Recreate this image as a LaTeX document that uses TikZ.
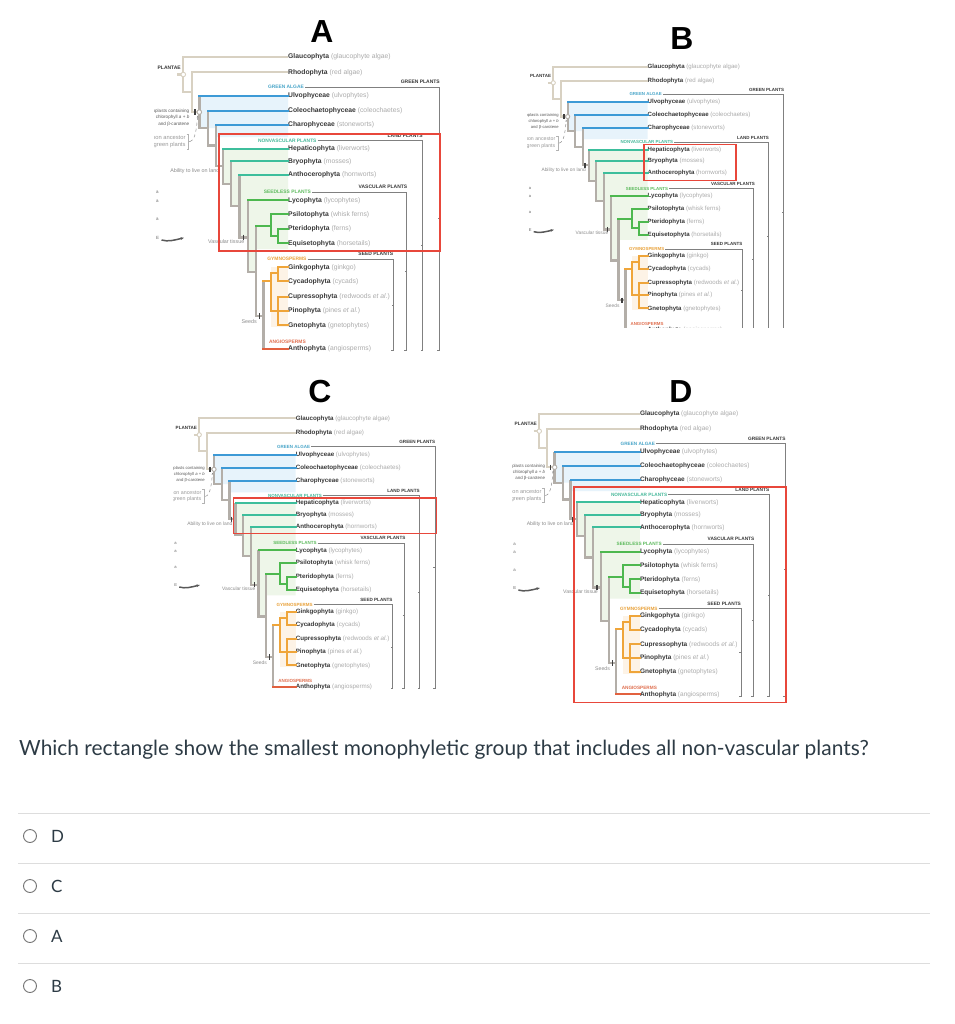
\documentclass[tikz,border=0pt]{standalone}
\usepackage{fontspec}
\setmainfont{Liberation Sans}
\newfontfamily\latofont{Lato}
\usetikzlibrary{arrows.meta}

\definecolor{tanline}{HTML}{D8D1C2}
\definecolor{greyline}{HTML}{B3AEA8}
\definecolor{algaeblue}{HTML}{3D9AD6}
\definecolor{mossteal}{HTML}{3DBE9C}
\definecolor{ferngreen}{HTML}{4DB84F}
\definecolor{coneorange}{HTML}{EFA53A}
\definecolor{flowerred}{HTML}{E2613F}
\definecolor{algaefill}{HTML}{E7F3FB}
\definecolor{mossfill}{HTML}{EEF6E9}
\definecolor{conefill}{HTML}{FDF3E6}
\definecolor{algaelabel}{HTML}{4AA6C9}
\definecolor{mosslabel}{HTML}{46B89A}
\definecolor{fernlabel}{HTML}{5CBA5C}
\definecolor{conelabel}{HTML}{E9A23B}
\definecolor{flowerlabel}{HTML}{E07050}
\definecolor{namegray}{HTML}{383838}
\definecolor{commongray}{HTML}{ABABAB}
\definecolor{notegray}{HTML}{8C8C8C}
\definecolor{boxred}{HTML}{E8473B}
\definecolor{rulegray}{HTML}{DDDDDD}
\definecolor{canvastext}{HTML}{2D3B45}

\tikzset{
  backbone/.style={greyline, line width=2.4bp},
  tanbr/.style={tanline, line width=2.2bp},
  leafbr/.style={line width=2bp, line cap=rect},
  taxon/.style={anchor=west, inner sep=0pt, text=namegray, font=\fontsize{6.8}{7}\selectfont},
  cladename/.style={anchor=east, inner sep=0pt, font=\bfseries\fontsize{4.9}{5}\selectfont},
  groupname/.style={anchor=east, inner sep=0pt, text=namegray, font=\bfseries\fontsize{5}{5}\selectfont},
  bracketline/.style={black!50, line width=0.6bp},
  note/.style={inner sep=0pt, text=notegray, font=\fontsize{5.4}{6}\selectfont},
  marker/.style={black!75, line width=1.4bp},
  nodedot/.style={circle, draw, fill=white, line width=0.9bp, minimum size=4.6bp, inner sep=0pt},
  panelletter/.style={inner sep=0pt, font=\bfseries\fontsize{32}{32}\selectfont},
  redbox/.style={boxred, line width=1.5bp},
  question/.style={anchor=west, inner sep=0pt, text=canvastext, font=\latofont\fontsize{21}{24}\selectfont},
  optionname/.style={anchor=west, inner sep=0pt, text=canvastext, font=\latofont\fontsize{17}{19}\selectfont},
  radio/.style={circle, draw=black!55, line width=0.9bp, minimum size=13bp, inner sep=0pt},
  rule/.style={rulegray, line width=1bp}
}

% branch from an inner node out to a taxon
\newcommand{\taxonleaf}[3]{%
  \draw[backbone] (#1) -- (#1 |- #2.west);
  \draw[leafbr, #3] (#1 |- #2.west) -- (#2.west);}

% bracket of a named group: label, right x, mid y
\newcommand{\cladebracket}[3]{%
  \draw[bracketline] ([xshift=1bp]#1.east) -| (#2,350.5) -- ++(-2,0);
  \draw[bracketline] (#2,#3) -- ++(-1.5,0);}

% the whole tree, drawn in panel A pixels
\newcommand{\planttree}{%
  % shaded clades
  \fill[algaefill] (199.3,96) -- (288,96) -- (288,137) -- (216,137) -- (216,128.2) -- (199.3,128.2) -- cycle;
  \fill[mossfill] (222.7,148.7) -- (288,148.7) -- (288,249) -- (255.7,249) -- (255.7,272) -- (247.7,272) -- (247.7,237.5) -- (239.3,237.5) -- (239.3,206) -- (231,206) -- (231,183.7) -- (222.7,183.7) -- cycle;
  \fill[conefill] (270.7,266.7) -- (288,266.7) -- (288,327) -- (270.7,327) -- cycle;
  % taxa
  \node[taxon] (glauco) at (288,56.7) {\textbf{Glaucophyta} \textcolor{commongray}{(glaucophyte algae)}};
  \node[taxon] (rhodo) at (288,72.3) {\textbf{Rhodophyta} \textcolor{commongray}{(red algae)}};
  \node[taxon] (ulvo) at (288,96) {\textbf{Ulvophyceae} \textcolor{commongray}{(ulvophytes)}};
  \node[taxon] (coleo) at (288,110.7) {\textbf{Coleochaetophyceae} \textcolor{commongray}{(coleochaetes)}};
  \node[taxon] (charo) at (288,125) {\textbf{Charophyceae} \textcolor{commongray}{(stoneworts)}};
  \node[taxon] (hepat) at (288,148.7) {\textbf{Hepaticophyta} \textcolor{commongray}{(liverworts)}};
  \node[taxon] (bryo) at (288,161.3) {\textbf{Bryophyta} \textcolor{commongray}{(mosses)}};
  \node[taxon] (anthoc) at (288,174.7) {\textbf{Anthocerophyta} \textcolor{commongray}{(hornworts)}};
  \node[taxon] (lyco) at (288,200.3) {\textbf{Lycophyta} \textcolor{commongray}{(lycophytes)}};
  \node[taxon] (psilo) at (288,214.3) {\textbf{Psilotophyta} \textcolor{commongray}{(whisk ferns)}};
  \node[taxon] (pterido) at (288,229) {\textbf{Pteridophyta} \textcolor{commongray}{(ferns)}};
  \node[taxon] (equis) at (288,243.3) {\textbf{Equisetophyta} \textcolor{commongray}{(horsetails)}};
  \node[taxon] (ginkgo) at (288,267.3) {\textbf{Ginkgophyta} \textcolor{commongray}{(ginkgo)}};
  \node[taxon] (cycado) at (288,281.3) {\textbf{Cycadophyta} \textcolor{commongray}{(cycads)}};
  \node[taxon] (cupresso) at (288,296.7) {\textbf{Cupressophyta} \textcolor{commongray}{(redwoods \textit{et al.})}};
  \node[taxon] (pino) at (288,310.7) {\textbf{Pinophyta} \textcolor{commongray}{(pines \textit{et al.})}};
  \node[taxon] (gneto) at (288,325.3) {\textbf{Gnetophyta} \textcolor{commongray}{(gnetophytes)}};
  \node[taxon] (antho) at (288,348.7) {\textbf{Anthophyta} \textcolor{commongray}{(angiosperms)}};
  % inner nodes
  \coordinate (n1) at (183.3,74.5);
  \coordinate (n2) at (191.7,92.2);
  \coordinate (n3) at (199.3,112.1);
  \coordinate (n4) at (207.7,128.2);
  \coordinate (n5) at (216,145.6);
  \coordinate (n6) at (222.7,166.2);
  \coordinate (n7) at (231,183.7);
  \coordinate (n8) at (239.3,206);
  \coordinate (n9) at (247.7,237.5);
  \coordinate (n10) at (255.7,272);
  \coordinate (n11) at (270.7,226.3);
  \coordinate (n12) at (278.3,236.3);
  \coordinate (n13) at (263.3,316);
  \coordinate (n14) at (270.7,281);
  \coordinate (n15) at (278.3,273.3);
  \coordinate (n16) at (278.3,310.7);
  % branches
  \draw[tanbr] ([xshift=-6]n1) -- (n1);
  \draw[tanbr] (n1) |- (glauco.west);
  \draw[tanbr] (n1) |- (n2);
  \draw[tanbr] (n2) |- (rhodo.west);
  \draw[tanbr] (n2) |- (n3);
  \draw[backbone] (n3) |- (n4);
  \draw[backbone] (n4) |- (n5);
  \draw[backbone] (n5) |- (n6);
  \draw[backbone] (n6) |- (n7);
  \draw[backbone] (n7) |- (n8);
  \draw[backbone] (n8) |- (n9);
  \draw[backbone] (n9) |- (n10);
  \draw[backbone] (n10) |- (n13);
  \taxonleaf{n3}{ulvo}{algaeblue}
  \taxonleaf{n4}{coleo}{algaeblue}
  \taxonleaf{n5}{charo}{algaeblue}
  \taxonleaf{n6}{hepat}{mossteal}
  \taxonleaf{n7}{bryo}{mossteal}
  \taxonleaf{n8}{anthoc}{mossteal}
  \taxonleaf{n9}{lyco}{ferngreen}
  \taxonleaf{n10}{n11}{ferngreen}
  \draw[leafbr, ferngreen] (n11) |- (psilo.west);
  \draw[leafbr, ferngreen] (n11) |- (n12);
  \draw[leafbr, ferngreen] (n12) |- (pterido.west);
  \draw[leafbr, ferngreen] (n12) |- (equis.west);
  \taxonleaf{n13}{n14}{coneorange}
  \taxonleaf{n13}{antho}{flowerred}
  \draw[leafbr, coneorange] (n14) |- (n15);
  \draw[leafbr, coneorange] (n14) |- (n16);
  \draw[leafbr, coneorange] (n15) |- (ginkgo.west);
  \draw[leafbr, coneorange] (n15) |- (cycado.west);
  \draw[leafbr, coneorange] (n16) |- (cupresso.west);
  \draw[leafbr, coneorange] (n16) |- (pino.west);
  \draw[leafbr, coneorange] (n16) |- (gneto.west);
  % events on the branches
  \draw[marker] (195,109.3) -- (195,114.9);
  \draw[marker] (218.6,163.4) -- (218.6,169);
  \draw[marker] (243.5,234.7) -- (243.5,240.3);
  \draw[marker] (259.5,313.2) -- (259.5,318.8);
  \node[nodedot, draw=tanline] (rootdot) at (n1) {};
  \node[nodedot, draw=greyline] (greendot) at (n3) {};
  % clade names and brackets
  \node[cladename, text=algaelabel] (galg) at (304,87.3) {GREEN ALGAE};
  \node[cladename, text=mosslabel] (nonv) at (316.7,140.7) {NONVASCULAR PLANTS};
  \node[cladename, text=fernlabel] (seedless) at (311,192.3) {SEEDLESS PLANTS};
  \node[cladename, text=conelabel] (gymno) at (306.7,259.3) {GYMNOSPERMS};
  \node[cladename, text=flowerlabel] (angio) at (306,342) {ANGIOSPERMS};
  \node[groupname] (gplants) at (440,82) {GREEN PLANTS};
  \node[groupname] (lplants) at (423,136) {LAND PLANTS};
  \node[groupname] (vplants) at (407.5,187) {VASCULAR PLANTS};
  \node[groupname] (splants) at (393.5,254) {SEED PLANTS};
  \node[groupname] (plantae) at (181,67.3) {PLANTAE};
  \cladebracket{galg}{439.3}{218.5}
  \cladebracket{nonv}{422.7}{245.5}
  \cladebracket{seedless}{406}{271}
  \cladebracket{gymno}{393.3}{305}
  % notes on the left
  \node[note, anchor=east] (landnote) at (219.5,171.5) {Ability to live on land};
  \node[note, anchor=east] (vascnote) at (244.5,241.7) {Vascular tissue};
  \node[note, anchor=east] (seednote) at (257,322) {Seeds};
  \node[note, anchor=east, align=right, text=black!65, font=\fontsize{4.6}{6.5}\selectfont] (chloronote) at (189.5,117.6) {Chloroplasts containing\\chlorophyll \textit{a} + \textit{b}\\and β-carotene};
  \node[note, anchor=east, align=right, text=black!40, font=\fontsize{5.8}{7.3}\selectfont] (ancnote) at (185.7,141.3) {Common ancestor\\of green plants};
  \draw[bracketline, black!30] (186.5,134) -- (188.5,134) -- (188.5,149) -- (186.5,149);
  \coordinate (bracetip) at (190,141.5);
  \draw[bracketline, black!30] (188.5,141.5) -- (bracetip);
  \draw[black!45, line width=0.5bp, dashed, -{Stealth[length=2bp]}] (bracetip) .. controls (196,140) and (196.5,126) .. ([shift={(-1.5,3.5)}]n3);
  \node[note, anchor=west, text=black!60, font=\fontsize{4.5}{5}\selectfont] (fraga) at (156,192.3) {a};
  \node[note, anchor=west, text=black!60, font=\fontsize{4.5}{5}\selectfont] (fragb) at (156,201) {a};
  \node[note, anchor=west, text=black!60, font=\fontsize{4.5}{5}\selectfont] (fragc) at (156,219) {a};
  \node[note, anchor=west, text=black!60, font=\fontsize{4.5}{5}\selectfont] (frage) at (156,238.3) {E};
  \coordinate (arrowtail) at (161.5,240);
  \coordinate (arrowhead) at (184,237.8);
  \draw[black!65, line width=1.5bp, -{Stealth[length=3.5bp]}] (arrowtail) .. controls (168,242) and (175,240) .. (arrowhead);
}

\begin{document}
\begin{tikzpicture}[x=1bp, y=-1bp]
  \useasboundingbox (0,0) rectangle (955,1024);
  \fill[white] (0,0) rectangle (955,1024);

  % Panel letters
  \node[panelletter] (letA) at (322,32) {A};
  \node[panelletter] (letB) at (682,39) {B};
  \node[panelletter] (letC) at (320,392) {C};
  \node[panelletter] (letD) at (681,392) {D};

  % Panel A
  \begin{scope}
    \clip (154,47) rectangle (446,357);
    \planttree
  \end{scope}
  % Panel B
  \begin{scope}
    \clip (527,57) rectangle (784.5,327);
    \begin{scope}[shift={(388.33,15.7)}, scale=0.9, transform shape]
      \planttree
    \end{scope}
  \end{scope}
  % Panel C
  \begin{scope}
    \clip (173,408) rectangle (440,697);
    \begin{scope}[shift={(30.66,366.22)}, scale=0.92, transform shape]
      \planttree
    \end{scope}
  \end{scope}
  % Panel D
  \begin{scope}
    \clip (512,404) rectangle (790,702);
    \begin{scope}[shift={(363.33,359.66)}, scale=0.96, transform shape]
      \planttree
    \end{scope}
  \end{scope}

  % Red rectangles
  \draw[redbox] (219,134) rectangle (440,251);
  \draw[redbox] (644,144.5) rectangle (736,180.3);
  \draw[redbox] (233.3,498) rectangle (436.7,533.7);
  \draw[redbox] (574,487) rectangle (786,702.3);

  % Question and options
  \node[question] (quest) at (19,750) {Which rectangle show the smallest monophyletic group that includes all non-vascular plants?};
  \foreach \yy in {813,863,913,963}
    \draw[rule] (18,\yy) -- (930,\yy);
  \foreach \yy/\opt in {836/D,886/C,936/A,986/B} {
    \node[radio] (radio\opt) at (30,\yy) {};
    \node[optionname] (opt\opt) at (51,\yy) {\opt};
  }
\end{tikzpicture}
\end{document}
